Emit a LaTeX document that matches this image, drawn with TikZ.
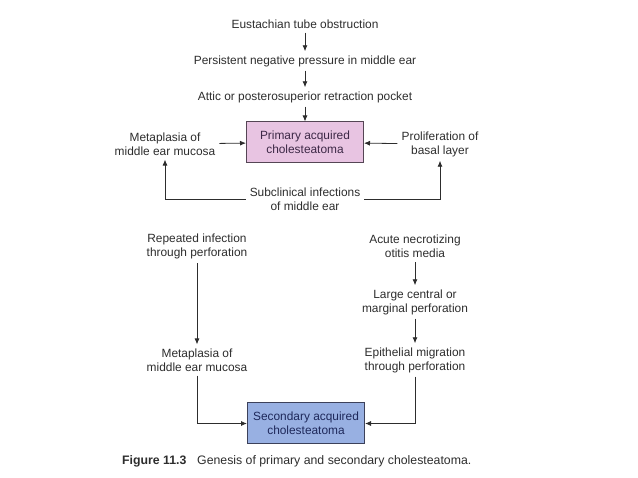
\documentclass[tikz,border=0pt]{standalone}
\usepackage{fontspec}
\setmainfont{Liberation Sans}
\usetikzlibrary{shapes,arrows,arrows.meta,calc}
\definecolor{pinkfill}{RGB}{232,196,226}
\definecolor{bluefill}{RGB}{152,176,226}
\definecolor{inkgray}{RGB}{45,45,45}
\tikzstyle{line} = [draw, -{Latex[length=6pt,width=5pt]}, line width=0.8pt, inkgray]
\tikzstyle{label} = [text centered, align=center, font=\fontsize{11.9}{14}\selectfont, text=inkgray, inner sep=4pt]
\tikzstyle{block} = [draw, rectangle, text centered, align=center, line width=1pt, minimum width=117pt, minimum height=41pt, font=\fontsize{11.9}{14}\selectfont]

\begin{document}
\begin{tikzpicture}[x=1pt, y=1pt, node distance = 36pt, auto]
        \useasboundingbox (0,0) rectangle (638,-478);
        % primary acquired
        \node[label] at (305,-24) (eust) {Eustachian tube obstruction};
        \node[label, below of=eust, node distance=37pt] (press) {Persistent negative pressure in middle ear};
        \node[label, below of=press] (attic) {Attic or posterosuperior retraction pocket};
        \node[block, fill=pinkfill, draw={rgb,255:red,85;green,70;blue,85}, text={rgb,255:red,60;green,40;blue,70}, below of=attic, node distance=45.5pt] (prim) {Primary acquired\\cholesteatoma};
        \node[label] at (165,-144) (metl) {Metaplasia of\\middle ear mucosa};
        \node[label] at (440,-144) (prol) {Proliferation of\\basal layer};
        \node[label] at (305,-199) (subc) {Subclinical infections\\of middle ear};
        \path[line] (eust) -- (press);
        \path[line] (press) -- (attic);
        \path[line] (attic) -- (prim);
        \path[line] (metl) -- (prim);
        \path[line] (prol) -- (prim);
        \path[line] (subc.west) -| (metl.south);
        \path[line] (subc.east) -| (prol.south);
        % secondary acquired
        \node[label] at (197,-246.5) (rep) {Repeated infection\\through perforation};
        \node[label, below of=rep, node distance=113.5pt] (met2) {Metaplasia of\\middle ear mucosa};
        \node[label] at (415,-246.5) (acute) {Acute necrotizing\\otitis media};
        \node[label, below of=acute, node distance=55.5pt] (large) {Large central or\\marginal perforation};
        \node[label, below of=large, node distance=58pt] (epi) {Epithelial migration\\through perforation};
        \node[block, fill=bluefill, draw={rgb,255:red,60;green,65;blue,90}, text={rgb,255:red,30;green,40;blue,90}] at (306,-423.5) (sec) {Secondary acquired\\cholesteatoma};
        \path[line] (rep) -- (met2);
        \path[line] (acute) -- (large);
        \path[line] (large) -- (epi);
        \path[line] (met2.south) |- (sec.west);
        \path[line] (epi.south) |- (sec.east);
        \node[anchor=west, inner sep=0pt, text=inkgray, font=\fontsize{12.3}{13}\selectfont] at (122,-461) (capt) {\makebox[75pt][l]{\textbf{Figure 11.3}}Genesis of primary and secondary cholesteatoma.};
    \end{tikzpicture}
\end{document}
